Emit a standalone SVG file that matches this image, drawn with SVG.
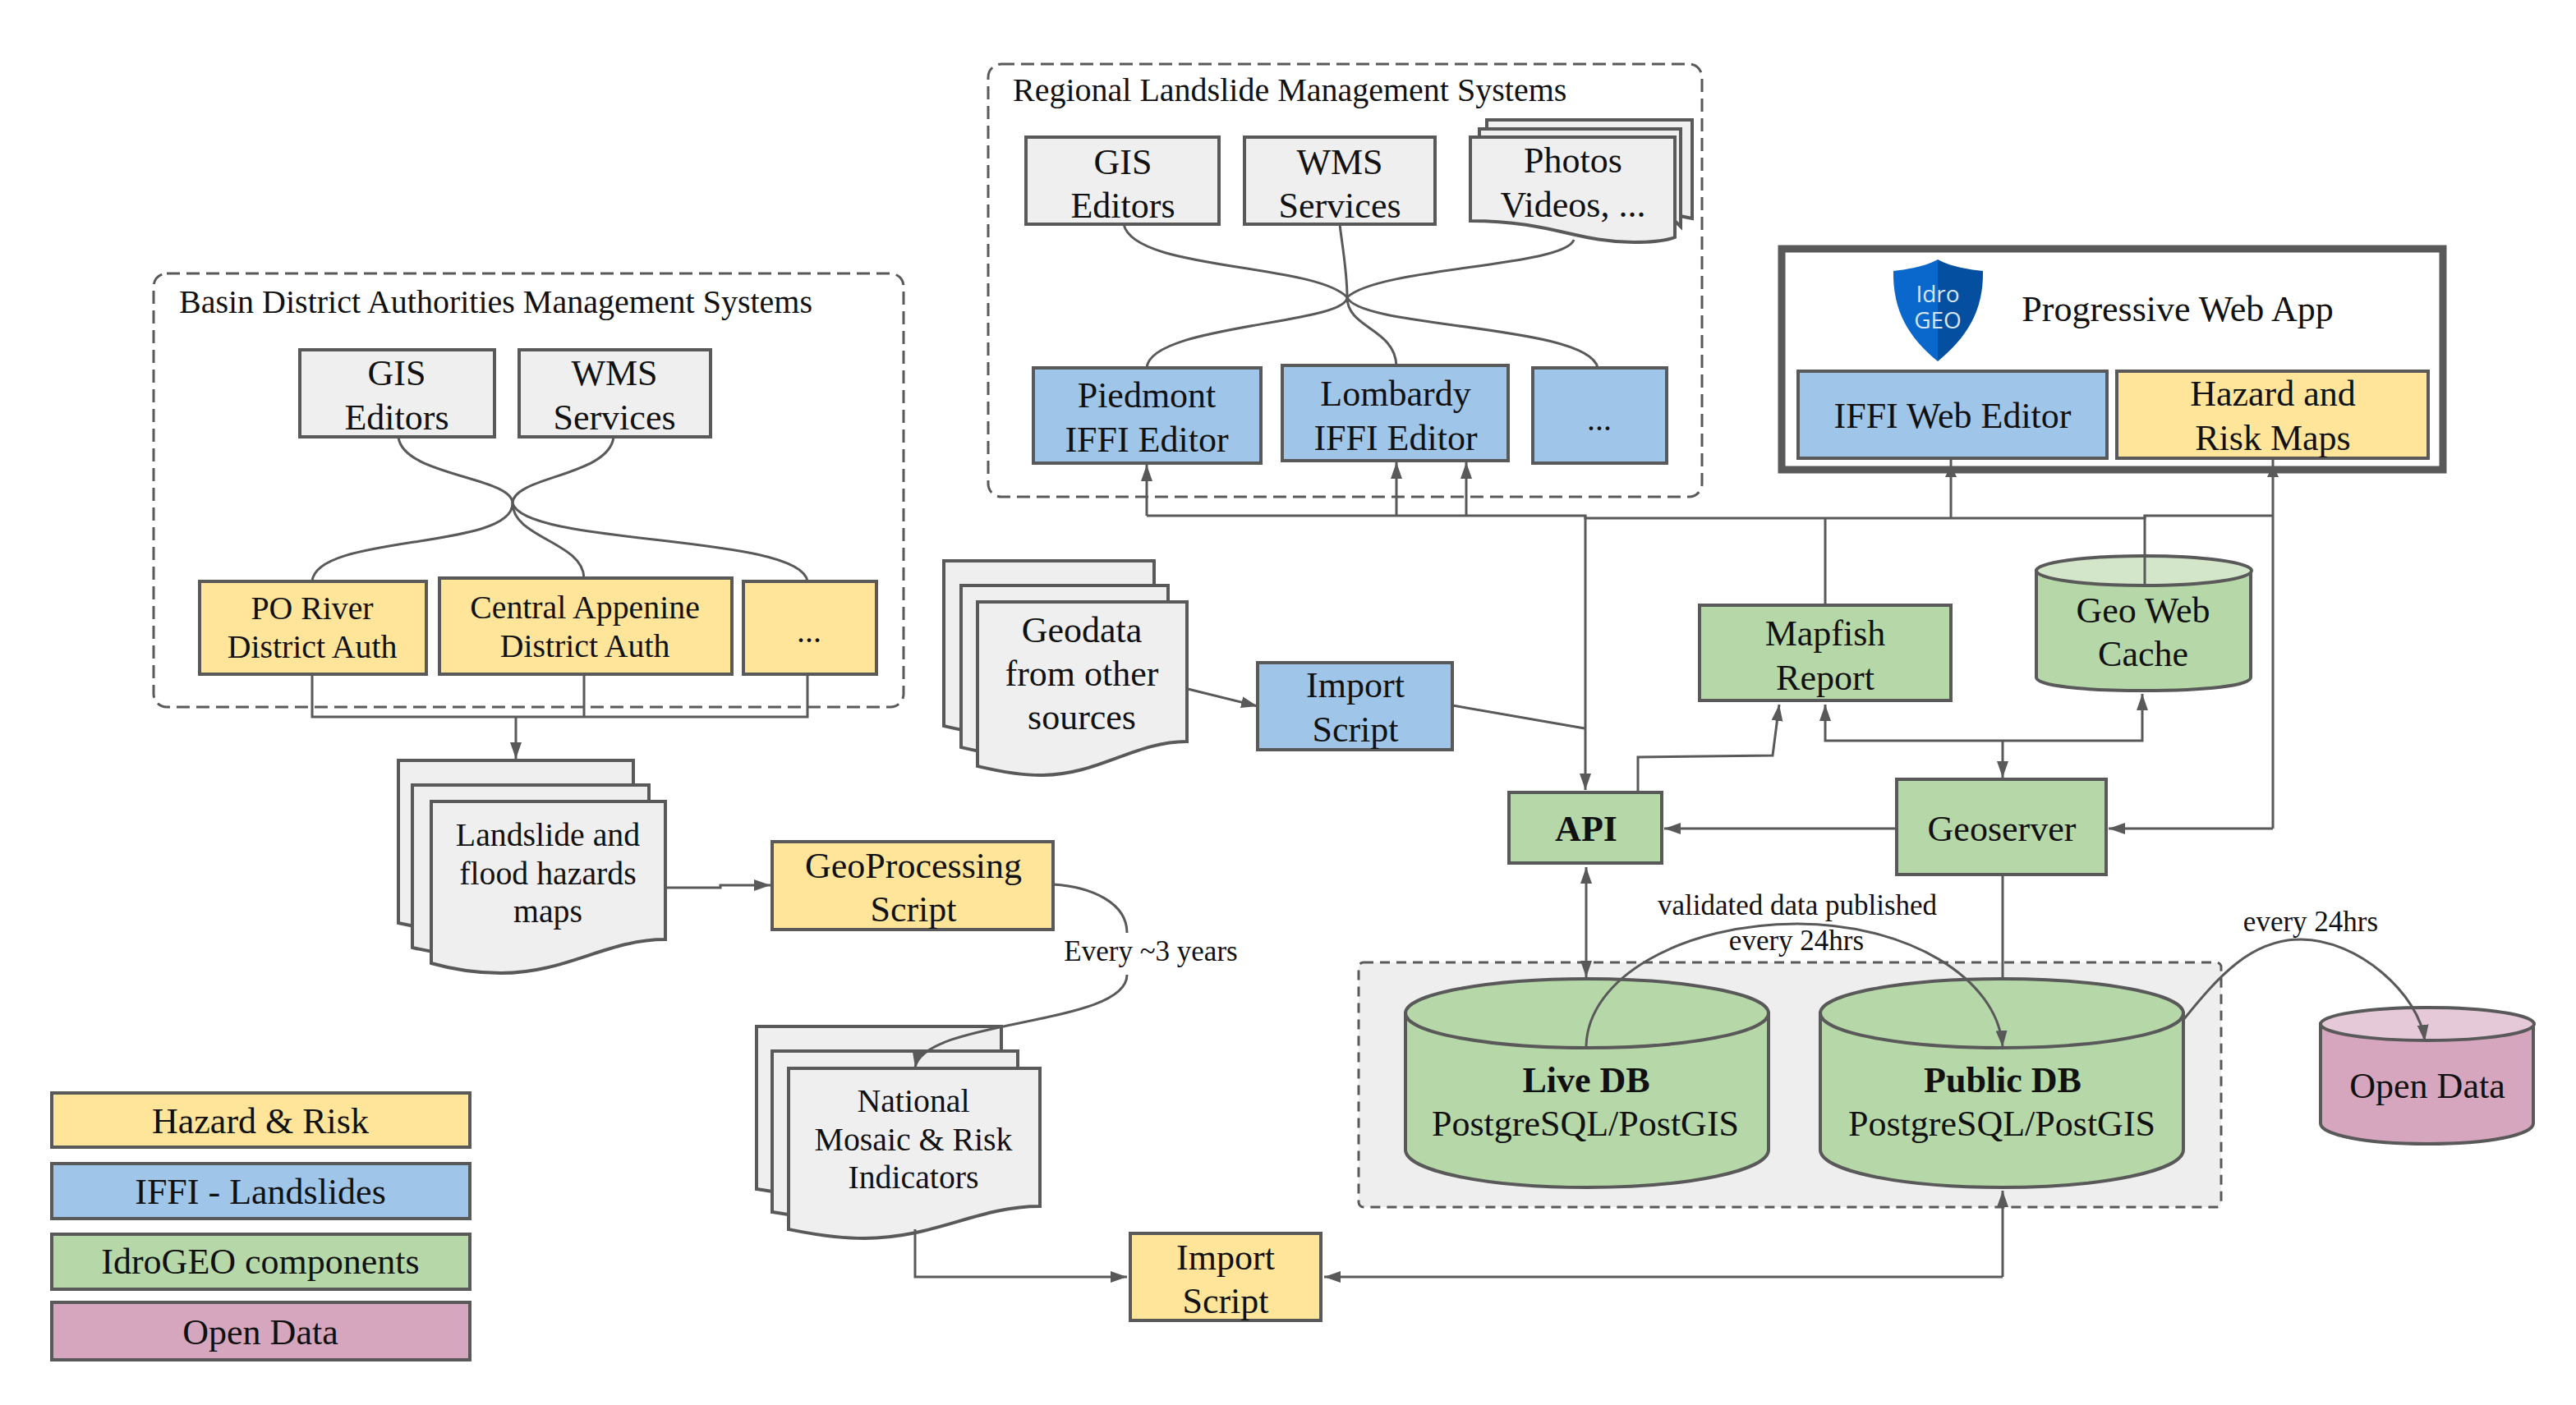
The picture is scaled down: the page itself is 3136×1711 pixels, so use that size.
<svg xmlns="http://www.w3.org/2000/svg" width="3136" height="1711" viewBox="0 0 3136 1711">
<style>
text{font-family:"Liberation Serif","Times New Roman",serif;fill:#111;font-size:44px;text-anchor:middle}
.s{font-size:39.8px}
.l{font-size:35px}
.t{font-size:40px;text-anchor:start}
.b{font-weight:bold}
.n{stroke:#595959;stroke-width:4;stroke-linejoin:miter}
.y{fill:#ffe599}.u{fill:#9fc5e8}.g{fill:#b6d7a8}.w{fill:#efefef}.p{fill:#d5a6bd}
.gt{fill:#d3e6ca}.pt{fill:#e6c9d9}
.d{fill:none;stroke:#595959;stroke-width:3;stroke-dasharray:16 8}
.c{fill:none;stroke:#595959;stroke-width:3}
.a{marker-end:url(#h)}
.hd{fill:#595959}
.logo text{font-family:"Open Sans",sans-serif;fill:#d5e6f7;font-size:28px}
</style>
<defs>
<marker id="h" markerUnits="userSpaceOnUse" markerWidth="22" markerHeight="16" refX="20" refY="7" orient="auto"><path d="M0 0L20 7L0 14Z" fill="#595959"/></marker>
</defs>
<rect width="3136" height="1711" fill="#fff"/>

<g id="group-regional"><rect class="d" x="1203" y="78" width="869" height="527" rx="16"/><text class="t" x="1233" y="123">Regional Landslide Management Systems</text></g>
<g id="group-basin"><rect class="d" x="187" y="333" width="913" height="528" rx="16"/><text class="t" x="218" y="381">Basin District Authorities Management Systems</text></g>
<g id="group-db"><rect x="1654" y="1172" width="1050" height="298" rx="6" fill="#eeeeee" stroke="#595959" stroke-width="3" stroke-dasharray="12 8"/></g>

<g id="reg-gis"><rect class="n w" x="1249" y="167" width="235" height="106"/><text x="1367" y="212">GIS</text><text x="1367" y="265">Editors</text></g>
<g id="reg-wms"><rect class="n w" x="1515" y="167" width="232" height="106"/><text x="1631" y="212">WMS</text><text x="1631" y="265">Services</text></g>
<g id="reg-photos">
<path class="n w" d="M1810 146H2060V266L2030 260H1810Z"/>
<path class="n w" d="M1801 157H2046V276L2030 260H1801Z"/>
<path class="n w" d="M1790 167H2039V289c-10 4-30 6-50 6c-70 0-100-26-199-26Z"/>
<text x="1915" y="210">Photos</text><text x="1915" y="264">Videos, ...</text></g>
<g id="reg-piedmont"><rect class="n u" x="1258" y="448" width="277" height="116"/><text x="1396" y="496">Piedmont</text><text x="1396" y="550">IFFI Editor</text></g>
<g id="reg-lombardy"><rect class="n u" x="1561" y="445" width="275" height="116"/><text x="1699" y="494">Lombardy</text><text x="1699" y="548">IFFI Editor</text></g>
<g id="reg-more"><rect class="n u" x="1866" y="448" width="163" height="116"/><text x="1947" y="524" class="s">...</text></g>

<g id="pwa"><rect x="2169" y="303" width="805" height="269" fill="#fff" stroke="#595959" stroke-width="9"/>
<g class="logo"><path d="M2359 316C2340 326 2320 328 2305 330C2304 380 2325 412 2359 440Z" fill="#0a67cc"/><path d="M2359 316C2378 326 2398 328 2414 330C2415 380 2393 412 2359 440Z" fill="#044f9f"/><text x="2359" y="368">Idro</text><text x="2359" y="400">GEO</text></g>
<text x="2651" y="391">Progressive Web App</text></g>
<g id="pwa-iffi"><rect class="n u" x="2189" y="452" width="376" height="106"/><text x="2377" y="521">IFFI Web Editor</text></g>
<g id="pwa-hazard"><rect class="n y" x="2577" y="452" width="379" height="106"/><text x="2767" y="494">Hazard and</text><text x="2767" y="548">Risk Maps</text></g>

<g id="basin-gis"><rect class="n w" x="365" y="426" width="237" height="106"/><text x="483" y="469">GIS</text><text x="483" y="523">Editors</text></g>
<g id="basin-wms"><rect class="n w" x="632" y="426" width="233" height="106"/><text x="748" y="469">WMS</text><text x="748" y="523">Services</text></g>
<g id="basin-po"><rect class="n y" x="243" y="708" width="276" height="113"/><text class="s" x="380" y="754">PO River</text><text class="s" x="380" y="801">District Auth</text></g>
<g id="basin-central"><rect class="n y" x="535" y="704" width="356" height="117"/><text class="s" x="712" y="753">Central Appenine</text><text class="s" x="712" y="800">District Auth</text></g>
<g id="basin-more"><rect class="n y" x="905" y="708" width="162" height="113"/><text class="s" x="985" y="782">...</text></g>

<g id="geodata">
<path class="n w" d="M1149 683H1405V854c-64 0-107 41-179 41c-33 0-64-8-77-11Z"/>
<path class="n w" d="M1170 713H1422V880c-63 0-105 41-175 41c-33 0-64-8-77-11Z"/>
<path class="n w" d="M1190 733H1445V903c-64 0-107 41-178 41c-33 0-64-8-77-11Z"/>
<text x="1317" y="782">Geodata</text><text x="1317" y="835">from other</text><text x="1317" y="888">sources</text></g>
<g id="import-blue"><rect class="n u" x="1531" y="807" width="237" height="106"/><text x="1650" y="849">Import</text><text x="1650" y="903">Script</text></g>

<g id="landslide-maps">
<path class="n w" d="M485 926H771V1094c-71 0-120 41-200 41c-37 0-72-8-86-11Z"/>
<path class="n w" d="M502 956H790V1124c-72 0-121 41-202 41c-37 0-72-8-86-11Z"/>
<path class="n w" d="M525 976H810V1144c-71 0-120 41-200 41c-37 0-71-8-85-12Z"/>
<text class="s" x="667" y="1030">Landslide and</text><text class="s" x="667" y="1077">flood hazards</text><text class="s" x="667" y="1123">maps</text></g>
<g id="geoprocessing"><rect class="n y" x="940" y="1025" width="342" height="107"/><text x="1112" y="1069">GeoProcessing</text><text x="1112" y="1122">Script</text></g>
<g id="national">
<path class="n w" d="M921 1250H1219V1419c-74 0-124 39-208 39c-39 0-75-8-90-10Z"/>
<path class="n w" d="M940 1280H1239V1447c-75 0-125 39-209 39c-39 0-75-8-90-10Z"/>
<path class="n w" d="M960 1301H1266V1469c-76 0-128 39-214 39c-40 0-77-8-92-11Z"/>
<text class="s" x="1112" y="1354">National</text><text class="s" x="1112" y="1401">Mosaic &amp; Risk</text><text class="s" x="1112" y="1447">Indicators</text></g>
<g id="import-yellow"><rect class="n y" x="1376" y="1502" width="232" height="106"/><text x="1492" y="1546">Import</text><text x="1492" y="1599">Script</text></g>

<g id="mapfish"><rect class="n g" x="2069" y="737" width="306" height="116"/><text x="2222" y="786">Mapfish</text><text x="2222" y="840">Report</text></g>
<g id="geocache"><path class="n g" d="M2479 695V825C2479 835 2535 841 2610 841S2740 835 2740 825V695Z"/><ellipse class="n gt" cx="2610" cy="695" rx="131" ry="18"/><text x="2609" y="758">Geo Web</text><text x="2609" y="811">Cache</text></g>
<g id="api"><rect class="n g" x="1837" y="965" width="186" height="86"/><text class="b" x="1931" y="1024">API</text></g>
<g id="geoserver"><rect class="n g" x="2309" y="949" width="255" height="116"/><text x="2437" y="1024">Geoserver</text></g>
<g id="livedb"><path class="n g" d="M1711 1234V1400C1711 1426 1810 1446 1932 1446S2153 1426 2153 1400V1234Z"/><ellipse class="n g" cx="1932" cy="1234" rx="221" ry="42"/><text class="b" x="1931" y="1330">Live DB</text><text x="1930" y="1383">PostgreSQL/PostGIS</text></g>
<g id="publicdb"><path class="n g" d="M2216 1234V1400C2216 1426 2315 1446 2437 1446S2658 1426 2658 1400V1234Z"/><ellipse class="n g" cx="2437" cy="1234" rx="221" ry="42"/><text class="b" x="2438" y="1330">Public DB</text><text x="2437" y="1383">PostgreSQL/PostGIS</text></g>
<g id="opendata"><path class="n p" d="M2825 1247V1368C2825 1382 2880 1393 2955 1393S3084 1382 3084 1368V1247Z"/><ellipse class="n pt" cx="2955" cy="1247" rx="130" ry="20"/><text x="2955" y="1337">Open Data</text></g>

<g id="legend">
<rect class="n y" x="63" y="1331" width="509" height="66"/><text x="317" y="1380">Hazard &amp; Risk</text>
<rect class="n u" x="63" y="1417" width="509" height="67"/><text x="317" y="1466">IFFI - Landslides</text>
<rect class="n g" x="63" y="1503" width="509" height="67"/><text x="317" y="1551">IdroGEO components</text>
<rect class="n p" x="63" y="1586" width="509" height="70"/><text x="317" y="1637">Open Data</text>
</g>

<g id="connectors">
<path class="c" d="M1368 273C1380 330 1600 320 1640 362"/>
<path class="c" d="M1631 273C1634 300 1640 330 1640 362"/>
<path class="c" d="M1916 292C1905 325 1680 325 1640 362"/>
<path class="c" d="M1640 362C1640 395 1400 395 1396 448"/>
<path class="c" d="M1640 362C1640 400 1698 400 1700 445"/>
<path class="c" d="M1640 362C1655 400 1935 395 1945 448"/>
<path class="c" d="M485 532C490 580 624 580 624 613"/>
<path class="c" d="M747 532C742 580 624 580 624 613"/>
<path class="c" d="M624 613C624 670 385 650 380 708"/>
<path class="c" d="M624 613C624 655 710 660 711 704"/>
<path class="c" d="M624 613C640 665 975 650 983 708"/>
<path class="c" d="M380 821V873H983V821M711 821V873"/>
<path class="c a" d="M628 873V924"/>
<path class="c a" d="M810 1081H877V1078H938"/>
<path class="c" d="M1282 1077C1330 1080 1372 1100 1372 1136"/>
<path class="c a" d="M1372 1187C1372 1250 1125 1240 1114 1300"/>
<path class="c a" d="M1114 1497V1555H1372"/>
<path class="c a" d="M2438 1555H1612"/>
<path class="c a" d="M2438 1555V1450"/>
<path class="c a" d="M1446 839L1531 860"/>
<path class="c" d="M1768 859L1929 887"/>
<path class="c a" d="M1396 628V566"/>
<path class="c a" d="M1700 628V563"/>
<path class="c a" d="M1785 628V563"/>
<path class="c" d="M1396 628H1930V631H2611V628H2767"/>
<path class="c a" d="M1930 628V962"/>
<path class="c" d="M2222 631V737"/>
<path class="c" d="M2611 628V712"/>
<path class="c" d="M2375 631V558"/>
<path class="hd" d="M2368 581L2375 566L2382 581Z"/>
<path class="c" d="M2767 558V1009"/>
<path class="hd" d="M2760 581L2767 566L2774 581Z"/>
<path class="c a" d="M2767 1009H2567"/>
<path class="c a" d="M2309 1009H2026"/>
<path class="c a" d="M1994 965V922L2158 920L2166 858"/>
<path class="c a" d="M2438 902H2222V858"/>
<path class="c a" d="M2438 902H2608V845"/>
<path class="c a" d="M2438 902V947"/>
<path class="c" d="M2438 1065V1192"/>
<path class="c a" d="M1931 1110V1056"/>
<path class="c a" d="M1931 1110V1190"/>
<path class="c a" d="M1931 1276C1931 1190 2050 1125 2188 1125C2320 1125 2432 1190 2438 1275"/>
<path class="c a" d="M2658 1242C2700 1190 2740 1144 2801 1144C2870 1144 2945 1210 2952 1268"/>
</g>

<g id="labels">
<text class="l" x="2188" y="1114">validated data published</text>
<text class="l" x="2187" y="1157">every 24hrs</text>
<text class="l" x="2813" y="1134">every 24hrs</text>
<text class="l" x="1401" y="1170">Every ~3 years</text>
</g>
</svg>
